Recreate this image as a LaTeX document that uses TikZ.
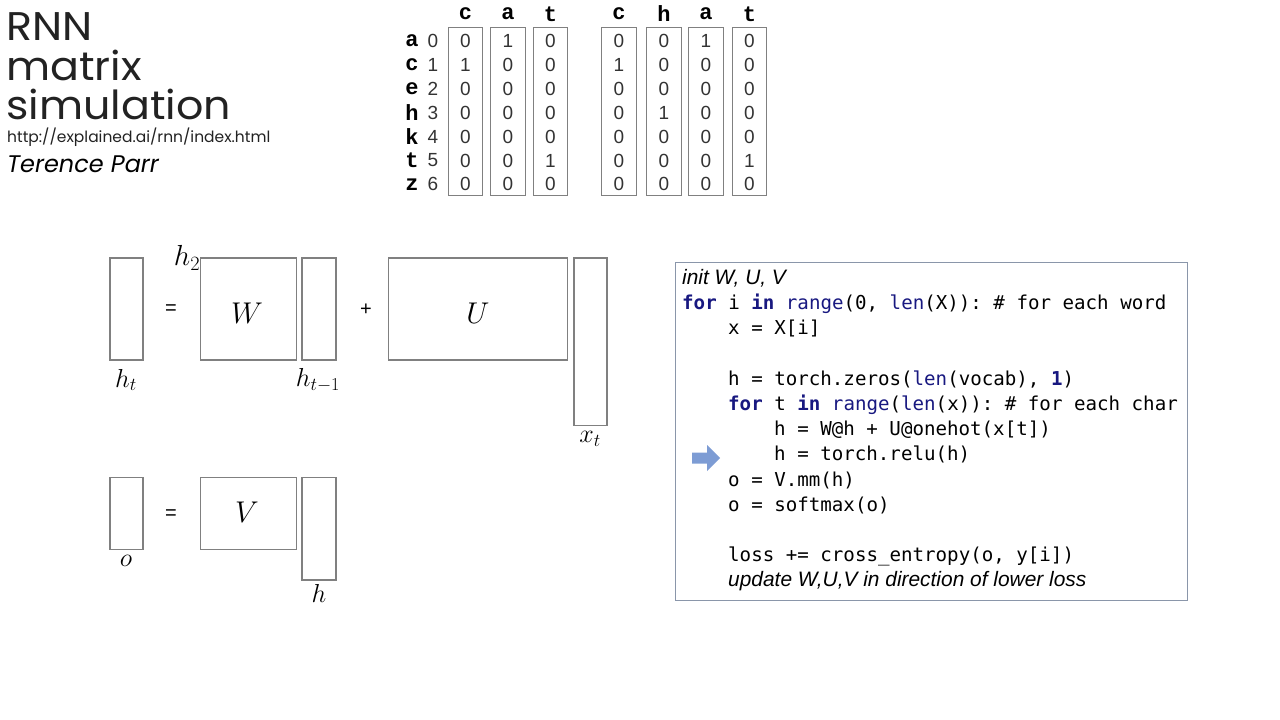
\documentclass[tikz,border=0pt]{standalone}
\usepackage{fix-cm}
\usepackage[no-math]{fontspec}
\setmainfont{Liberation Sans}
\newfontfamily\titlefont{Poppins}[FakeStretch=1.07]
\newfontfamily\smallfont{Poppins}
\newfontfamily\codefont{DejaVu Sans Mono}
\newfontfamily\cmono{Liberation Mono}
\definecolor{kwc}{RGB}{24,24,128}
\definecolor{boxc}{RGB}{128,128,128}
\definecolor{codeframe}{RGB}{138,150,170}
\definecolor{arrowc}{RGB}{125,156,212}
\definecolor{titlec}{RGB}{34,34,34}
\newcommand\kwd[1]{\textcolor{kwc}{\bfseries #1}}
\newcommand\bfn[1]{\textcolor{kwc}{#1}}
\begin{document}
\begin{tikzpicture}[x=1pt,y=-1pt,
  mbox/.style={draw=boxc,line width=1.2pt,inner sep=0pt},
  onehot/.style={draw=boxc,line width=1pt,inner sep=0pt,minimum width=34.5pt,minimum height=168pt},
  digit/.style={inner sep=0pt,font=\fontsize{19}{20}\selectfont,text=black!80},
  lett/.style={inner sep=0pt,font=\cmono\bfseries\fontsize{22}{24}\selectfont},
  code/.style={inner sep=0pt,anchor=base west,font=\codefont\frenchspacing\fontsize{19.15}{20}\selectfont},
  note/.style={inner sep=0pt,anchor=base west,font=\itshape\fontsize{20.9}{22}\selectfont},
  mlab/.style={inner sep=0pt,font=\fontsize{26}{28}\selectfont},
  mbig/.style={inner sep=0pt,font=\fontsize{30}{32}\selectfont},
  op/.style={inner sep=0pt,font=\fontsize{20}{22}\selectfont}]
\useasboundingbox (0,0) rectangle (1280,720);
% title
\node[inner sep=0pt,anchor=base west,text=titlec,font=\titlefont\fontsize{40}{44}\selectfont] (t1) at (6,40) {RNN};
\node[inner sep=0pt,anchor=base west,text=titlec,font=\titlefont\fontsize{40}{44}\selectfont] (t2) at (6,80) {matrix};
\node[inner sep=0pt,anchor=base west,text=titlec,font=\titlefont\fontsize{40}{44}\selectfont] (t3) at (6,119) {simulation};
\node[inner sep=0pt,anchor=base west,text=titlec,font=\smallfont\fontsize{15.5}{18}\selectfont] (url) at (7,142) {http://explained.ai/rnn/index.html};
\node[inner sep=0pt,anchor=base west,text=black,font=\smallfont\itshape\fontsize{24}{26}\selectfont] (auth) at (7,172) {Terence Parr};
% one-hot table
\foreach \l/\d [count=\k from 0] in {a/0,c/1,e/2,h/3,k/4,t/5,z/6}{
  \node[lett] (L\k) at (412,41+23.9*\k) {\l};
  \node[digit] (D\k) at (433,41+23.9*\k) {\d};
}
\foreach \cx/\nm/\hd/\one in {465.5/c1/c/1,508/c2/a/0,550.5/c3/t/5,619/c4/c/1,664/c5/h/3,706/c6/a/0,749.5/c7/t/5}{
  \node[onehot] (\nm) at (\cx,111.5) {};
  \node[lett] (\nm h) at (\cx,14) {\hd};
  \foreach \r in {0,...,6}{
    \ifnum\r=\one\relax
      \node[digit] (\nm r\r) at (\cx,41+23.9*\r) {1};
    \else
      \node[digit] (\nm r\r) at (\cx,41+23.9*\r) {0};
    \fi
  }
}
% first equation
\node[mbox,minimum width=33pt,minimum height=102pt] (ht) at (126.5,309) {};
\node[op] (eq1) at (171,310) {=};
\node[mbox,minimum width=96pt,minimum height=102pt] (W) at (248.5,309) {};
\node[mbig] (Wl) at (247,313) {$W$};
\node[mbox,minimum width=34pt,minimum height=102pt] (hp) at (319,309) {};
\node[op] (plus) at (366,310) {+};
\node[mbox,minimum width=179pt,minimum height=102pt] (U) at (478,309) {};
\node[mbig] (Ul) at (478,313) {$U$};
\node[mbox,minimum width=33pt,minimum height=167.5pt] (xt) at (590.5,341.75) {};
\node[mlab] (htl) at (126,380) {$h_t$};
\node[mlab] (hpl) at (318,380) {$h_{t-1}$};
\node[mlab] (xtl) at (590,439) {$x_t$};
\node[inner sep=0pt,font=\fontsize{29}{30}\selectfont] (h2) at (187,258) {$h_2$};
% second equation
\node[mbox,minimum width=33pt,minimum height=72pt] (o) at (126.5,513.5) {};
\node[op] (eq2) at (171,515) {=};
\node[mbox,minimum width=96pt,minimum height=72pt] (V) at (248.5,513.5) {};
\node[mbig] (Vl) at (247,512) {$V$};
\node[mbox,minimum width=34pt,minimum height=102.5pt] (h) at (319,528.75) {};
\node[mlab] (ol) at (126,561) {$o$};
\node[mlab] (hl) at (319,593) {$h$};
% code box
\node[draw=codeframe,line width=1pt,inner sep=0pt,minimum width=512pt,minimum height=338pt] (codebox) at (931,431) {};
\node[note] (c1) at (682,284.5) {init W, U, V};
\node[code] (c2) at (682,309.7) {\kwd{for} i \kwd{in} \bfn{range}(0, \bfn{len}(X)): \# for each word};
\node[code] (c3) at (728,334.9) {x = X[i]};
\node[code] (c5) at (728,385.3) {h = torch.zeros(\bfn{len}(vocab), \kwd{1})};
\node[code] (c6) at (728,410.5) {\kwd{for} t \kwd{in} \bfn{range}(\bfn{len}(x)): \# for each char};
\node[code] (c7) at (774,435.7) {h = W@h + U@onehot(x[t])};
\node[code] (c8) at (774,460.9) {h = torch.relu(h)};
\node[code] (c9) at (728,486.1) {o = V.mm(h)};
\node[code] (c10) at (728,511.3) {o = softmax(o)};
\node[code] (c12) at (728,561.7) {loss += cross\_entropy(o, y[i])};
\node[note] (c13) at (728,586.9) {update W,U,V in direction of lower loss};
% pointer arrow
\fill[arrowc] (692,452.5) -- (707,452.5) -- (707,445) -- (720,458) -- (707,471) -- (707,463.5) -- (692,463.5) -- cycle;
\end{tikzpicture}
\end{document}
